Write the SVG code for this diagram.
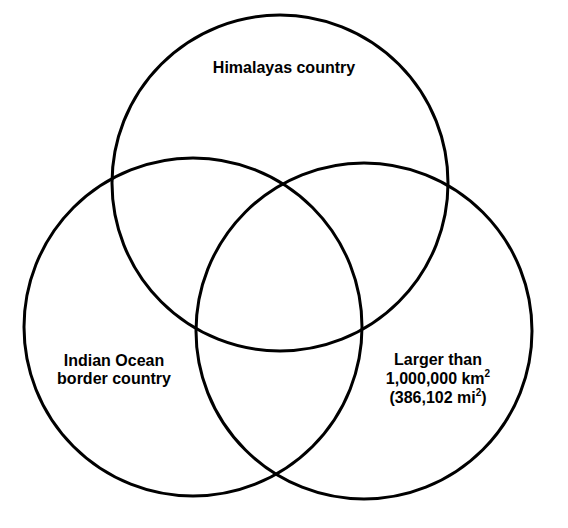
<svg xmlns="http://www.w3.org/2000/svg" width="568" height="528" viewBox="0 0 568 528">
<style>
.c{fill:none;stroke:#000;stroke-width:3}
.t{font-family:"Liberation Sans",Arial,sans-serif;font-size:16px;font-weight:bold;fill:#000;text-anchor:middle}
.s{font-size:10px}
</style>
<rect width="568" height="528" fill="#fff"/>
<g id="himalayas">
<circle class="c" cx="280" cy="183" r="168"/>
<text class="t" x="284" y="73">Himalayas country</text>
</g>
<g id="indian-ocean">
<circle class="c" cx="193" cy="327" r="169"/>
<text class="t" x="114" y="366">Indian Ocean</text>
<text class="t" x="114" y="384">border country</text>
</g>
<g id="larger">
<circle class="c" cx="364" cy="331" r="168"/>
<text class="t" x="438" y="365">Larger than</text>
<text class="t" x="438" y="384">1,000,000 km<tspan class="s" dy="-7">2</tspan></text>
<text class="t" x="438" y="403">(386,102 mi<tspan class="s" dy="-7">2</tspan><tspan dy="7">)</tspan></text>
</g>
<g id="connectors"></g>
</svg>
